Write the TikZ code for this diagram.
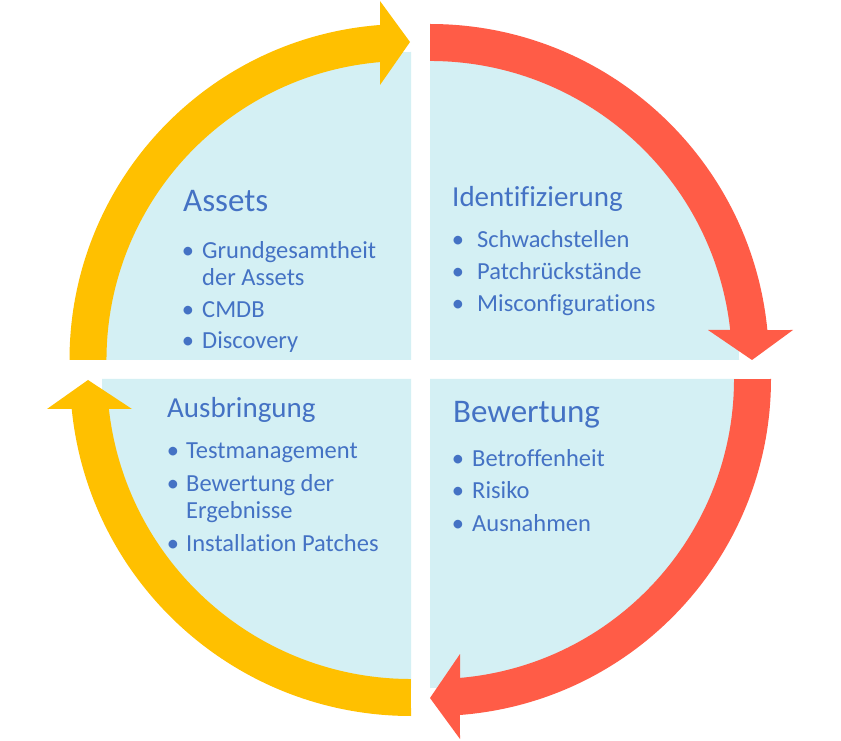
\documentclass[tikz,border=0pt]{standalone}
\usepackage{fontspec}
\setmainfont{Carlito}[Ligatures={NoCommon,NoRare,NoDiscretionary,NoContextual}]
\definecolor{quadfill}{RGB}{212,240,244}
\definecolor{goldarrow}{RGB}{255,192,0}
\definecolor{redarrow}{RGB}{255,92,71}
\definecolor{textblue}{RGB}{68,114,196}
\begin{document}
\begin{tikzpicture}[x=1pt,y=1pt,
  quad/.style={fill=quadfill},
  goldarc/.style={fill=goldarrow},
  redarc/.style={fill=redarrow},
  headbig/.style={anchor=base west,inner sep=0pt,text=textblue,font=\fontsize{33}{33}\selectfont},
  headsmall/.style={anchor=base west,inner sep=0pt,text=textblue,font=\fontsize{29}{29}\selectfont},
  itemtext/.style={anchor=base west,inner sep=0pt,text=textblue,font=\fontsize{24.5}{24.5}\selectfont},
  bulletmark/.style={anchor=base,inner sep=0pt,text=textblue,font=\fontsize{24.5}{24.5}\selectfont}
]
\useasboundingbox (0,0) rectangle (841,740);
\fill[white] (0,0) rectangle (841,740);
% quadrants
\fill[quad] (411,380) -- (103,380) arc[start angle=180,end angle=90,radius=308] -- cycle;
\fill[quad] (430,380) -- (430,689) arc[start angle=90,end angle=0,radius=309] -- cycle;
\fill[quad] (430,361) -- (739,361) arc[start angle=0,end angle=-90,radius=309] -- cycle;
\fill[quad] (411,361) -- (411,52) arc[start angle=270,end angle=180,radius=309] -- cycle;
% arrows
\fill[goldarc] (69.5,380) arc[start angle=180,end angle=94.35,radius=336]
  -- (380,739) -- (410,698) -- (380,655) -- (380,677.9)
  arc[start angle=94.89,end angle=180,radius=299] -- cycle;
\fill[redarc] (430,716) arc[start angle=90,end angle=5.585,radius=339]
  -- (793,410) -- (752,380) -- (708,410) -- (730.2,410)
  arc[start angle=6.27,end angle=90,radius=302] -- cycle;
\fill[redarc] (771,361) arc[start angle=0,end angle=-85.58,radius=337]
  -- (460,1) -- (430,42) -- (460,86) -- (460,62.1)
  arc[start angle=-85.03,end angle=0,radius=300] -- cycle;
\fill[goldarc] (411,24) arc[start angle=270,end angle=185.72,radius=341]
  -- (47,331) -- (88,360) -- (132,331) -- (108.9,331)
  arc[start angle=186.42,end angle=270,radius=304] -- cycle;
% top left
\node[headbig] (assets) at (183,528) {Assets};
\node[bulletmark] (b11) at (188,481) {•};
\node[itemtext] (t11) at (202,481) {Grundgesamtheit};
\node[itemtext] (t11b) at (202,454) {der Assets};
\node[bulletmark] (b12) at (188,422) {•};
\node[itemtext] (t12) at (202,422) {CMDB};
\node[bulletmark] (b13) at (188,391) {•};
\node[itemtext] (t13) at (202,391) {Discovery};
% top right
\node[headsmall] (ident) at (452,533) {Identifizierung};
\node[bulletmark] (b21) at (458,492) {•};
\node[itemtext] (t21) at (477,492) {Schwachstellen};
\node[bulletmark] (b22) at (458,460) {•};
\node[itemtext] (t22) at (477,460) {Patchrückstände};
\node[bulletmark] (b23) at (458,428) {•};
\node[itemtext] (t23) at (477,428) {Misconfigurations};
% bottom right
\node[headbig] (bew) at (453,317) {Bewertung};
\node[bulletmark] (b31) at (458,273) {•};
\node[itemtext] (t31) at (472,273) {Betroffenheit};
\node[bulletmark] (b32) at (458,242) {•};
\node[itemtext] (t32) at (472,242) {Risiko};
\node[bulletmark] (b33) at (458,209) {•};
\node[itemtext] (t33) at (472,209) {Ausnahmen};
% bottom left
\node[headsmall] (ausb) at (167,322) {Ausbringung};
\node[bulletmark] (b41) at (173,281) {•};
\node[itemtext] (t41) at (186,281) {Testmanagement};
\node[bulletmark] (b42) at (173,249) {•};
\node[itemtext] (t42) at (186,249) {Bewertung der};
\node[itemtext] (t42b) at (186,222) {Ergebnisse};
\node[bulletmark] (b43) at (173,189) {•};
\node[itemtext] (t43) at (186,189) {Installation Patches};
\end{tikzpicture}
\end{document}
